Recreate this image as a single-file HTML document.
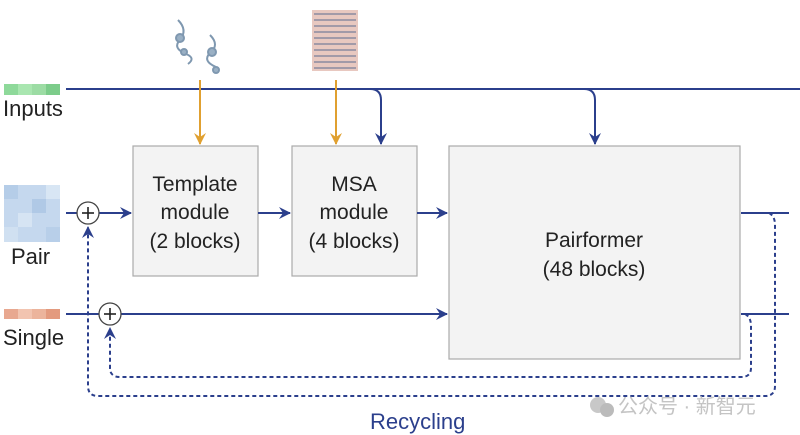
<!DOCTYPE html>
<html><head><meta charset="utf-8"><style>
html,body{margin:0;padding:0;background:#fff;width:800px;height:435px;overflow:hidden}
text{font-family:"Liberation Sans","Noto Sans CJK SC",sans-serif}
</style></head><body>
<svg width="800" height="435" viewBox="0 0 800 435" xmlns="http://www.w3.org/2000/svg">
<defs>
<marker id="ab" markerWidth="14" markerHeight="14" refX="11" refY="6" orient="auto" markerUnits="userSpaceOnUse"><path d="M0,0 L12,6 L0,12 L4,6 z" fill="#2b3f8c"/></marker>
<marker id="ao" markerWidth="14" markerHeight="14" refX="11" refY="6" orient="auto" markerUnits="userSpaceOnUse"><path d="M0,0 L12,6 L0,12 L4,6 z" fill="#e0a030"/></marker>
</defs>
<g>
<rect x="4" y="84" width="14" height="11" fill="#8ed99a"/><rect x="18" y="84" width="14" height="11" fill="#a9e6b0"/><rect x="32" y="84" width="14" height="11" fill="#9cdca4"/><rect x="46" y="84" width="14" height="11" fill="#7ccc8a"/>
<rect x="4" y="309" width="14" height="10" fill="#e8a890"/><rect x="18" y="309" width="14" height="10" fill="#f2c4b0"/><rect x="32" y="309" width="14" height="10" fill="#ecb49c"/><rect x="46" y="309" width="14" height="10" fill="#e39a7e"/>
<rect x="4" y="185" width="56" height="57" fill="#c5d8ee"/>
<rect x="4" y="185" width="14" height="14" fill="#b5cde8"/><rect x="32" y="199" width="14" height="14" fill="#b0c9e6"/><rect x="18" y="213" width="14" height="14" fill="#d6e4f3"/><rect x="46" y="185" width="14" height="14" fill="#d8e6f4"/><rect x="4" y="227" width="14" height="15" fill="#d0e0f1"/><rect x="46" y="227" width="14" height="15" fill="#b8cfe9"/>
</g>
<text x="3" y="116" font-size="22" fill="#222">Inputs</text>
<text x="11" y="264" font-size="22" fill="#222">Pair</text>
<text x="3" y="345" font-size="22" fill="#222">Single</text>
<g fill="#9ab0c4" stroke="#7f98b0" stroke-width="2">
<path d="M178,20 q10,10 2,20 q-8,8 6,14 q10,4 2,10" fill="none"/><path d="M210,35 q10,10 0,18 q-8,8 6,14" fill="none"/>
<circle cx="184" cy="52" r="3"/><circle cx="216" cy="70" r="3"/><circle cx="180" cy="38" r="4"/><circle cx="212" cy="52" r="4"/>
</g>
<rect x="312" y="10" width="46" height="61" fill="#e8c8c0"/>
<g stroke="#8a8aa0" stroke-width="1.5">
<line x1="314" y1="14" x2="356" y2="14"/><line x1="314" y1="20" x2="356" y2="20"/><line x1="314" y1="26" x2="356" y2="26"/><line x1="314" y1="32" x2="356" y2="32"/><line x1="314" y1="38" x2="356" y2="38"/><line x1="314" y1="44" x2="356" y2="44"/><line x1="314" y1="50" x2="356" y2="50"/><line x1="314" y1="56" x2="356" y2="56"/><line x1="314" y1="62" x2="356" y2="62"/><line x1="314" y1="68" x2="356" y2="68"/>
</g>
<rect x="133" y="146" width="125" height="130" fill="#f3f3f3" stroke="#aaa" stroke-width="1.2"/>
<rect x="292" y="146" width="125" height="130" fill="#f3f3f3" stroke="#aaa" stroke-width="1.2"/>
<rect x="449" y="146" width="291" height="213" fill="#f3f3f3" stroke="#aaa" stroke-width="1.2"/>
<g font-size="21" fill="#222" text-anchor="middle">
<text x="195" y="191">Template</text><text x="195" y="219">module</text><text x="195" y="248">(2 blocks)</text>
<text x="354" y="191">MSA</text><text x="354" y="219">module</text><text x="354" y="248">(4 blocks)</text>
<text x="594" y="247">Pairformer</text><text x="594" y="276">(48 blocks)</text>
</g>
<g stroke="#2b3f8c" stroke-width="2" fill="none">
<line x1="66" y1="89" x2="800" y2="89"/>
<path d="M370,89 q11,0 11,11 V144" marker-end="url(#ab)"/>
<path d="M584,89 q11,0 11,11 V144" marker-end="url(#ab)"/>
<line x1="66" y1="213" x2="77" y2="213"/>
<line x1="99" y1="213" x2="131" y2="213" marker-end="url(#ab)"/>
<line x1="258" y1="213" x2="290" y2="213" marker-end="url(#ab)"/>
<line x1="417" y1="213" x2="447" y2="213" marker-end="url(#ab)"/>
<line x1="66" y1="314" x2="99" y2="314"/>
<line x1="121" y1="314" x2="447" y2="314" marker-end="url(#ab)"/>
<line x1="741" y1="213" x2="789" y2="213"/>
<line x1="741" y1="314" x2="789" y2="314"/>
</g>
<g stroke="#e0a030" stroke-width="2">
<line x1="200" y1="80" x2="200" y2="144" marker-end="url(#ao)"/>
<line x1="336" y1="80" x2="336" y2="144" marker-end="url(#ao)"/>
</g>
<g stroke="#2b3f8c" stroke-width="2" fill="none" stroke-dasharray="4,3">
<path d="M769,213 q6,3 6,12 V386 q0,10 -10,10 H98 q-10,0 -10,-10 V227" marker-end="url(#ab)"/>
<path d="M745,314 q6,3 6,12 V368 q0,9 -10,9 H120 q-10,0 -10,-9 V328" marker-end="url(#ab)"/>
</g>
<g stroke="#444" stroke-width="1.3" fill="#fff">
<circle cx="88" cy="213" r="11"/><circle cx="110" cy="314" r="11"/>
</g>
<g stroke="#222" stroke-width="1.6">
<line x1="82" y1="213" x2="94" y2="213"/><line x1="88" y1="207" x2="88" y2="219"/>
<line x1="104" y1="314" x2="116" y2="314"/><line x1="110" y1="308" x2="110" y2="320"/>
</g>
<text x="370" y="429" font-size="22" fill="#2b3f8c">Recycling</text>
<circle cx="598" cy="405" r="8" fill="#c8c8c8"/><circle cx="607" cy="410" r="7" fill="#bbb"/>
<text x="618" y="413" font-size="20" fill="#c4c4c4">公众号 · 新智元</text>
</svg>
</body></html>
